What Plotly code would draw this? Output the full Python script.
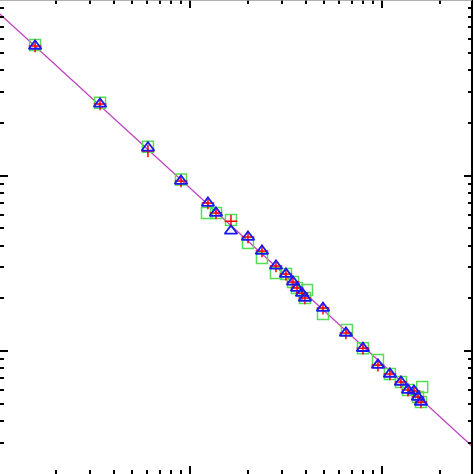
import plotly.graph_objects as go

# Fitted power-law line (endpoints)
line_x = [0.1, 30.0]
line_y = [8.5, 0.0283]

# Blue open triangles
tri_x = [0.156, 0.340, 0.604, 0.898, 1.24, 1.366, 1.635, 2.005, 2.371, 2.805, 3.162, 3.44, 3.61,
         3.83, 3.97, 4.93, 6.49, 7.96, 9.53, 11.0, 12.56, 13.66, 14.68, 15.4, 15.96]
tri_y = [5.47, 2.56, 1.44, 0.931, 0.698, 0.612, 0.484, 0.447, 0.372, 0.306, 0.275, 0.248, 0.229,
         0.214, 0.201, 0.176, 0.127, 0.104, 0.0834, 0.0742, 0.0668, 0.0601, 0.0594, 0.0548, 0.0514]

# Green open squares
sq_x = [0.156, 0.340, 0.604, 0.898, 1.226, 1.366, 1.635, 2.005, 2.371, 2.805, 3.162, 3.44, 3.61,
        4.07, 3.97, 4.93, 6.57, 7.96, 9.53, 11.0, 12.56, 13.66, 16.2, 15.4, 15.96]
sq_y = [5.55, 2.60, 1.46, 0.95, 0.612, 0.612, 0.559, 0.413, 0.340, 0.279, 0.275, 0.248, 0.229,
        0.223, 0.201, 0.163, 0.132, 0.104, 0.0891, 0.0742, 0.0668, 0.0601, 0.0625, 0.0548, 0.0514]

# Red plus signs
plus_x = [0.156, 0.340, 0.604, 0.898, 1.24, 1.366, 1.635, 2.005, 2.371, 2.805, 3.162, 3.44, 3.61,
          3.83, 3.97, 4.93, 6.49, 7.96, 9.53, 11.0, 12.56, 13.66, 14.68, 15.4, 15.96]
plus_y = [5.47, 2.56, 1.38, 0.931, 0.698, 0.612, 0.55, 0.447, 0.372, 0.306, 0.275, 0.248, 0.229,
          0.214, 0.201, 0.176, 0.127, 0.104, 0.0834, 0.0742, 0.0668, 0.0601, 0.0594, 0.0548, 0.0514]

fig = go.Figure()
fig.add_trace(go.Scatter(x=line_x, y=line_y, mode="lines",
                         line=dict(color="#c040c0", width=1.3), showlegend=False))
fig.add_trace(go.Scatter(x=sq_x, y=sq_y, mode="markers",
                         marker=dict(symbol="square-open", size=11, color="#55dd55",
                                     line=dict(width=1.5, color="#55dd55")), showlegend=False))
fig.add_trace(go.Scatter(x=plus_x, y=plus_y, mode="markers",
                         marker=dict(symbol="cross-thin", size=9, color="red",
                                     line=dict(width=1.5, color="red")), showlegend=False))
fig.add_trace(go.Scatter(x=tri_x, y=tri_y, mode="markers",
                         marker=dict(symbol="triangle-up-open", size=11, color="#1a1aee",
                                     line=dict(width=1.8, color="#1a1aee")), showlegend=False))

axis_common = dict(type="log", dtick=1, tick0=0, ticks="inside", ticklen=8, tickwidth=2,
                   tickcolor="black", showticklabels=False, showgrid=False, zeroline=False,
                   showline=False, mirror="ticks",
                   minor=dict(ticks="inside", ticklen=4, tickwidth=2, tickcolor="black",
                              showgrid=False))

fig.update_layout(
    width=474, height=474,
    margin=dict(l=0, r=2, t=0, b=0),
    paper_bgcolor="white", plot_bgcolor="white",
    xaxis=dict(range=[-0.9896, 1.469], **axis_common),
    yaxis=dict(range=[-1.699, 1.0], **axis_common),
    shapes=[
        dict(type="line", xref="paper", yref="paper", x0=1, x1=1, y0=0, y1=1,
             line=dict(color="black", width=2)),
        dict(type="line", xref="paper", yref="paper", x0=0, x1=1, y0=1, y1=1,
             line=dict(color="#999999", width=1.5)),
    ],
)

fig.write_html("out.html", config={"displayModeBar": False},
               post_script="document.body.style.margin='0';document.body.style.overflow='hidden';")
